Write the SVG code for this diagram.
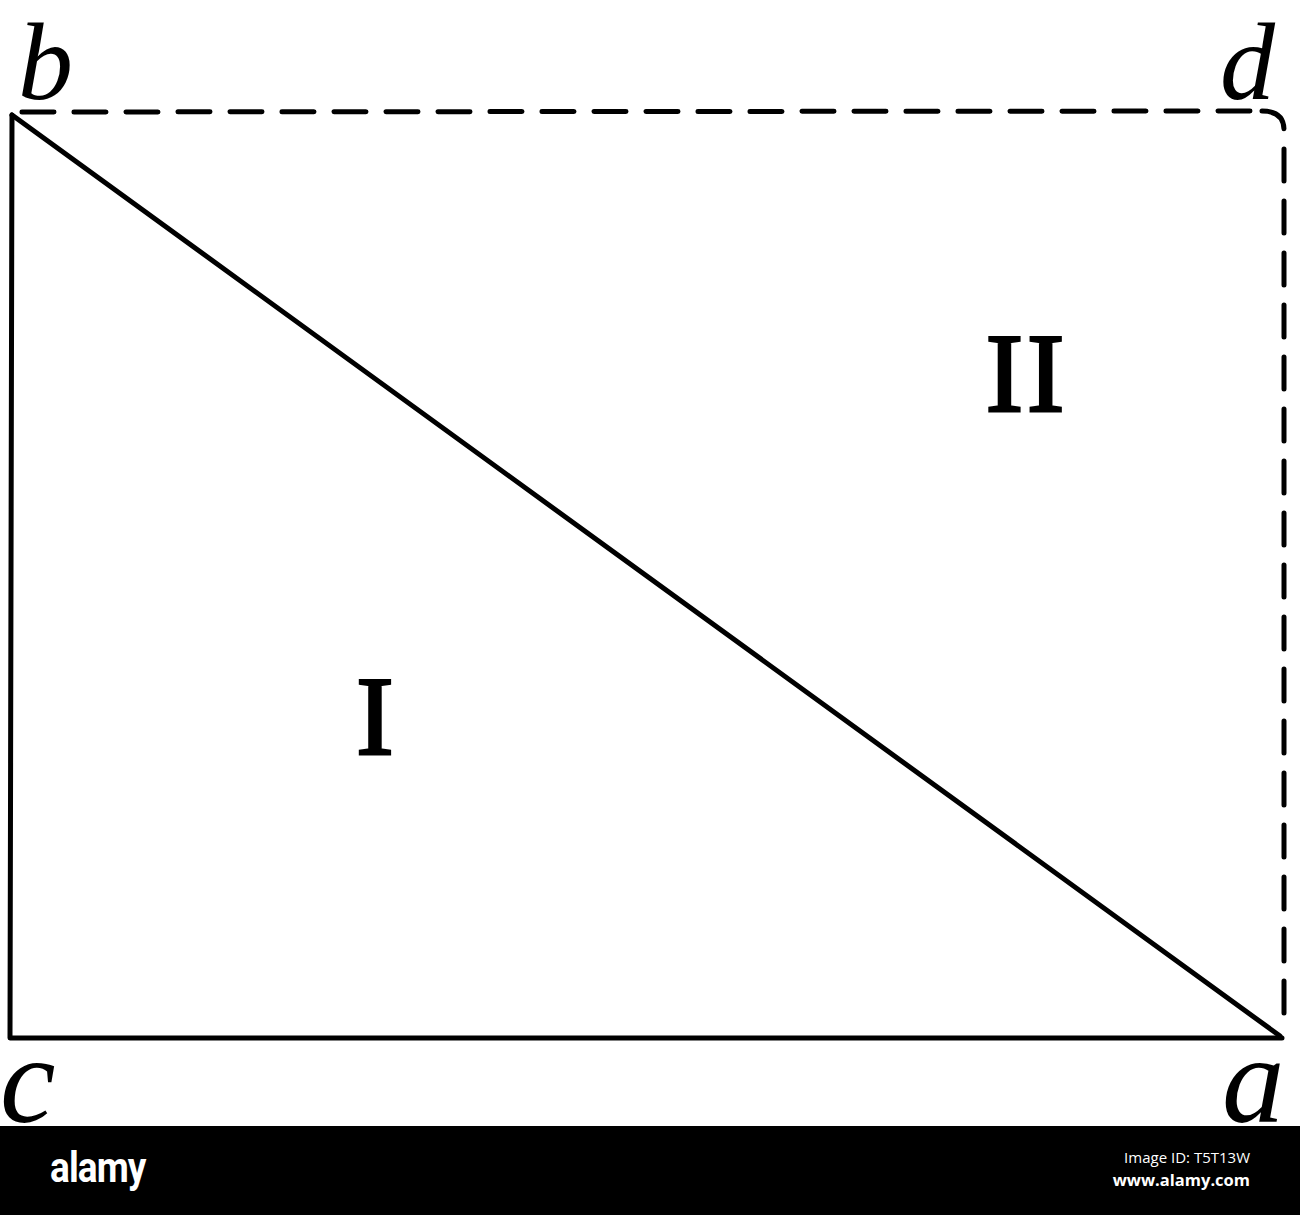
<svg xmlns="http://www.w3.org/2000/svg" width="1300" height="1215" viewBox="0 0 1300 1215">
<style>
.solid{stroke:#000;stroke-width:5;fill:none;stroke-linecap:round;stroke-linejoin:round}
.dash{stroke:#000;stroke-width:5;fill:none;stroke-dasharray:32 20;stroke-linecap:round}
.lbl{font-family:"Liberation Serif","DejaVu Serif",serif;font-style:italic;font-size:110px;fill:#000}
.lbl2{font-family:"Liberation Serif","DejaVu Serif",serif;font-style:italic;font-size:125px;fill:#000}
.num{font-family:"Liberation Serif","DejaVu Serif",serif;font-size:112px;fill:#000;stroke:#000;stroke-width:3}
</style>
<rect width="1300" height="1215" fill="#fff"/>
<g id="connectors">
<polyline class="solid" points="12,115 10,1038 1282,1038"/>
<line class="solid" x1="12" y1="115" x2="1280" y2="1036" stroke-width="4"/>
<line class="dash" x1="22" y1="112" x2="1260" y2="111"/>
<path class="dash" d="M1262,111 Q1284,111 1284,130 L1284,1030"/>
</g>
<g id="node-b"><text class="lbl" x="18" y="99">b</text></g>
<g id="node-d"><text class="lbl" x="1220" y="99">d</text></g>
<g id="node-c"><text class="lbl2" x="0" y="1122">c</text></g>
<g id="node-a"><text class="lbl2" x="1222" y="1122">a</text></g>
<g id="region-I"><text class="num" x="375" y="754" text-anchor="middle">I</text></g>
<g id="region-II"><text class="num" x="1027" y="411" text-anchor="middle" letter-spacing="4">II</text></g>
<g id="footer">
<rect x="0" y="1126" width="1300" height="89" fill="#000"/>
<text x="50" y="1182" font-family="Roboto,'Liberation Sans',sans-serif" font-weight="bold" font-size="42" fill="#fff" transform="translate(50 0) scale(0.88 1) translate(-50 0)" letter-spacing="-1">alamy</text>
<text x="1250" y="1163" text-anchor="end" font-family="'Open Sans','Noto Sans',sans-serif" font-size="15" fill="#fff">Image ID: T5T13W</text>
<text x="1250" y="1186" text-anchor="end" font-family="'Open Sans','Noto Sans',sans-serif" font-weight="bold" font-size="16.5" fill="#fff">www.alamy.com</text>
</g>
</svg>
